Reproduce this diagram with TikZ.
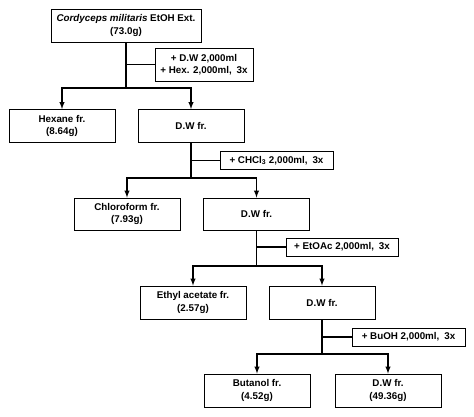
\documentclass[tikz,border=0pt]{standalone}
\usepackage{fontspec}
\setmainfont{Liberation Sans}
\usepackage{tikz}
\usetikzlibrary{positioning,arrows}

\tikzset{
    fracbox/.style = {draw, line width = .9pt, minimum width = 106pt, minimum height = 33pt, align = center, inner sep = 1pt},
    solvbox/.style = {draw, line width = .9pt, minimum height = 18pt, align = center, inner sep = 1pt},
    link/.style = {line width = 1.4pt},
    down/.style = {link, -latex}
}

\begin{document}
\begin{tikzpicture}[x = 1pt, y = -1pt, font = \fontsize{9.8}{12.5}\selectfont\bfseries]
    \useasboundingbox (0,0) rectangle (474,417);
    % extract
    \node[fracbox, minimum width = 150pt] (ext) at (126,25.5) {\textit{Cordyceps militaris} EtOH Ext.\\(73.0g)};
    \node[solvbox, minimum width = 98pt, minimum height = 33pt] (solA) at (204,64.5) {+ D.W 2,000ml\\+ Hex. 2,000ml,\enspace3x};
    \node[fracbox] (hex) at (62,126) {Hexane fr.\\(8.64g)};
    \node[fracbox] (dwA) at (191,126) {D.W fr.};
    % chloroform step
    \node[solvbox, minimum width = 113pt] (solB) at (276.5,160.5) {+ CHCl\textsubscript{3} 2,000ml,\enspace3x};
    \node[fracbox, minimum height = 32pt] (chl) at (127,214) {Chloroform fr.\\(7.93g)};
    \node[fracbox, minimum height = 32pt] (dwB) at (256.5,214) {D.W fr.};
    % ethyl acetate step
    \node[solvbox, minimum width = 112pt] (solC) at (342,247) {+ EtOAc 2,000ml,\enspace3x};
    \node[fracbox] (eth) at (193,302.5) {Ethyl acetate fr.\\(2.57g)};
    \node[fracbox] (dwC) at (322,302.5) {D.W fr.};
    % butanol step
    \node[solvbox, minimum width = 113pt] (solD) at (408.5,337) {+ BuOH 2,000ml,\enspace3x};
    \node[fracbox] (but) at (257,390.5) {Butanol fr.\\(4.52g)};
    \node[fracbox] (dwD) at (388,390.5) {D.W fr.\\(49.36g)};

    \coordinate (spA) at (126,88);
    \coordinate (spB) at (191,178);
    \coordinate (spC) at (256.5,266);
    \coordinate (spD) at (322,354);

    \draw[link] (ext) -- (spA);
    \draw[link] (ext.south |- solA.west) -- (solA.west);
    \draw[down] (spA) -| (hex.north);
    \draw[down] (spA) -| (dwA.north);

    \draw[link] (dwA) -- (spB);
    \draw[link] (dwA.south |- solB.west) -- (solB.west);
    \draw[down] (spB) -| (chl.north);
    \draw[down] (spB) -| (dwB.north);

    \draw[link] (dwB) -- (spC);
    \draw[link] (dwB.south |- solC.west) -- (solC.west);
    \draw[down] (spC) -| (eth.north);
    \draw[down] (spC) -| (dwC.north);

    \draw[link] (dwC) -- (spD);
    \draw[link] (dwC.south |- solD.west) -- (solD.west);
    \draw[down] (spD) -| (but.north);
    \draw[down] (spD) -| (dwD.north);
\end{tikzpicture}
\end{document}
